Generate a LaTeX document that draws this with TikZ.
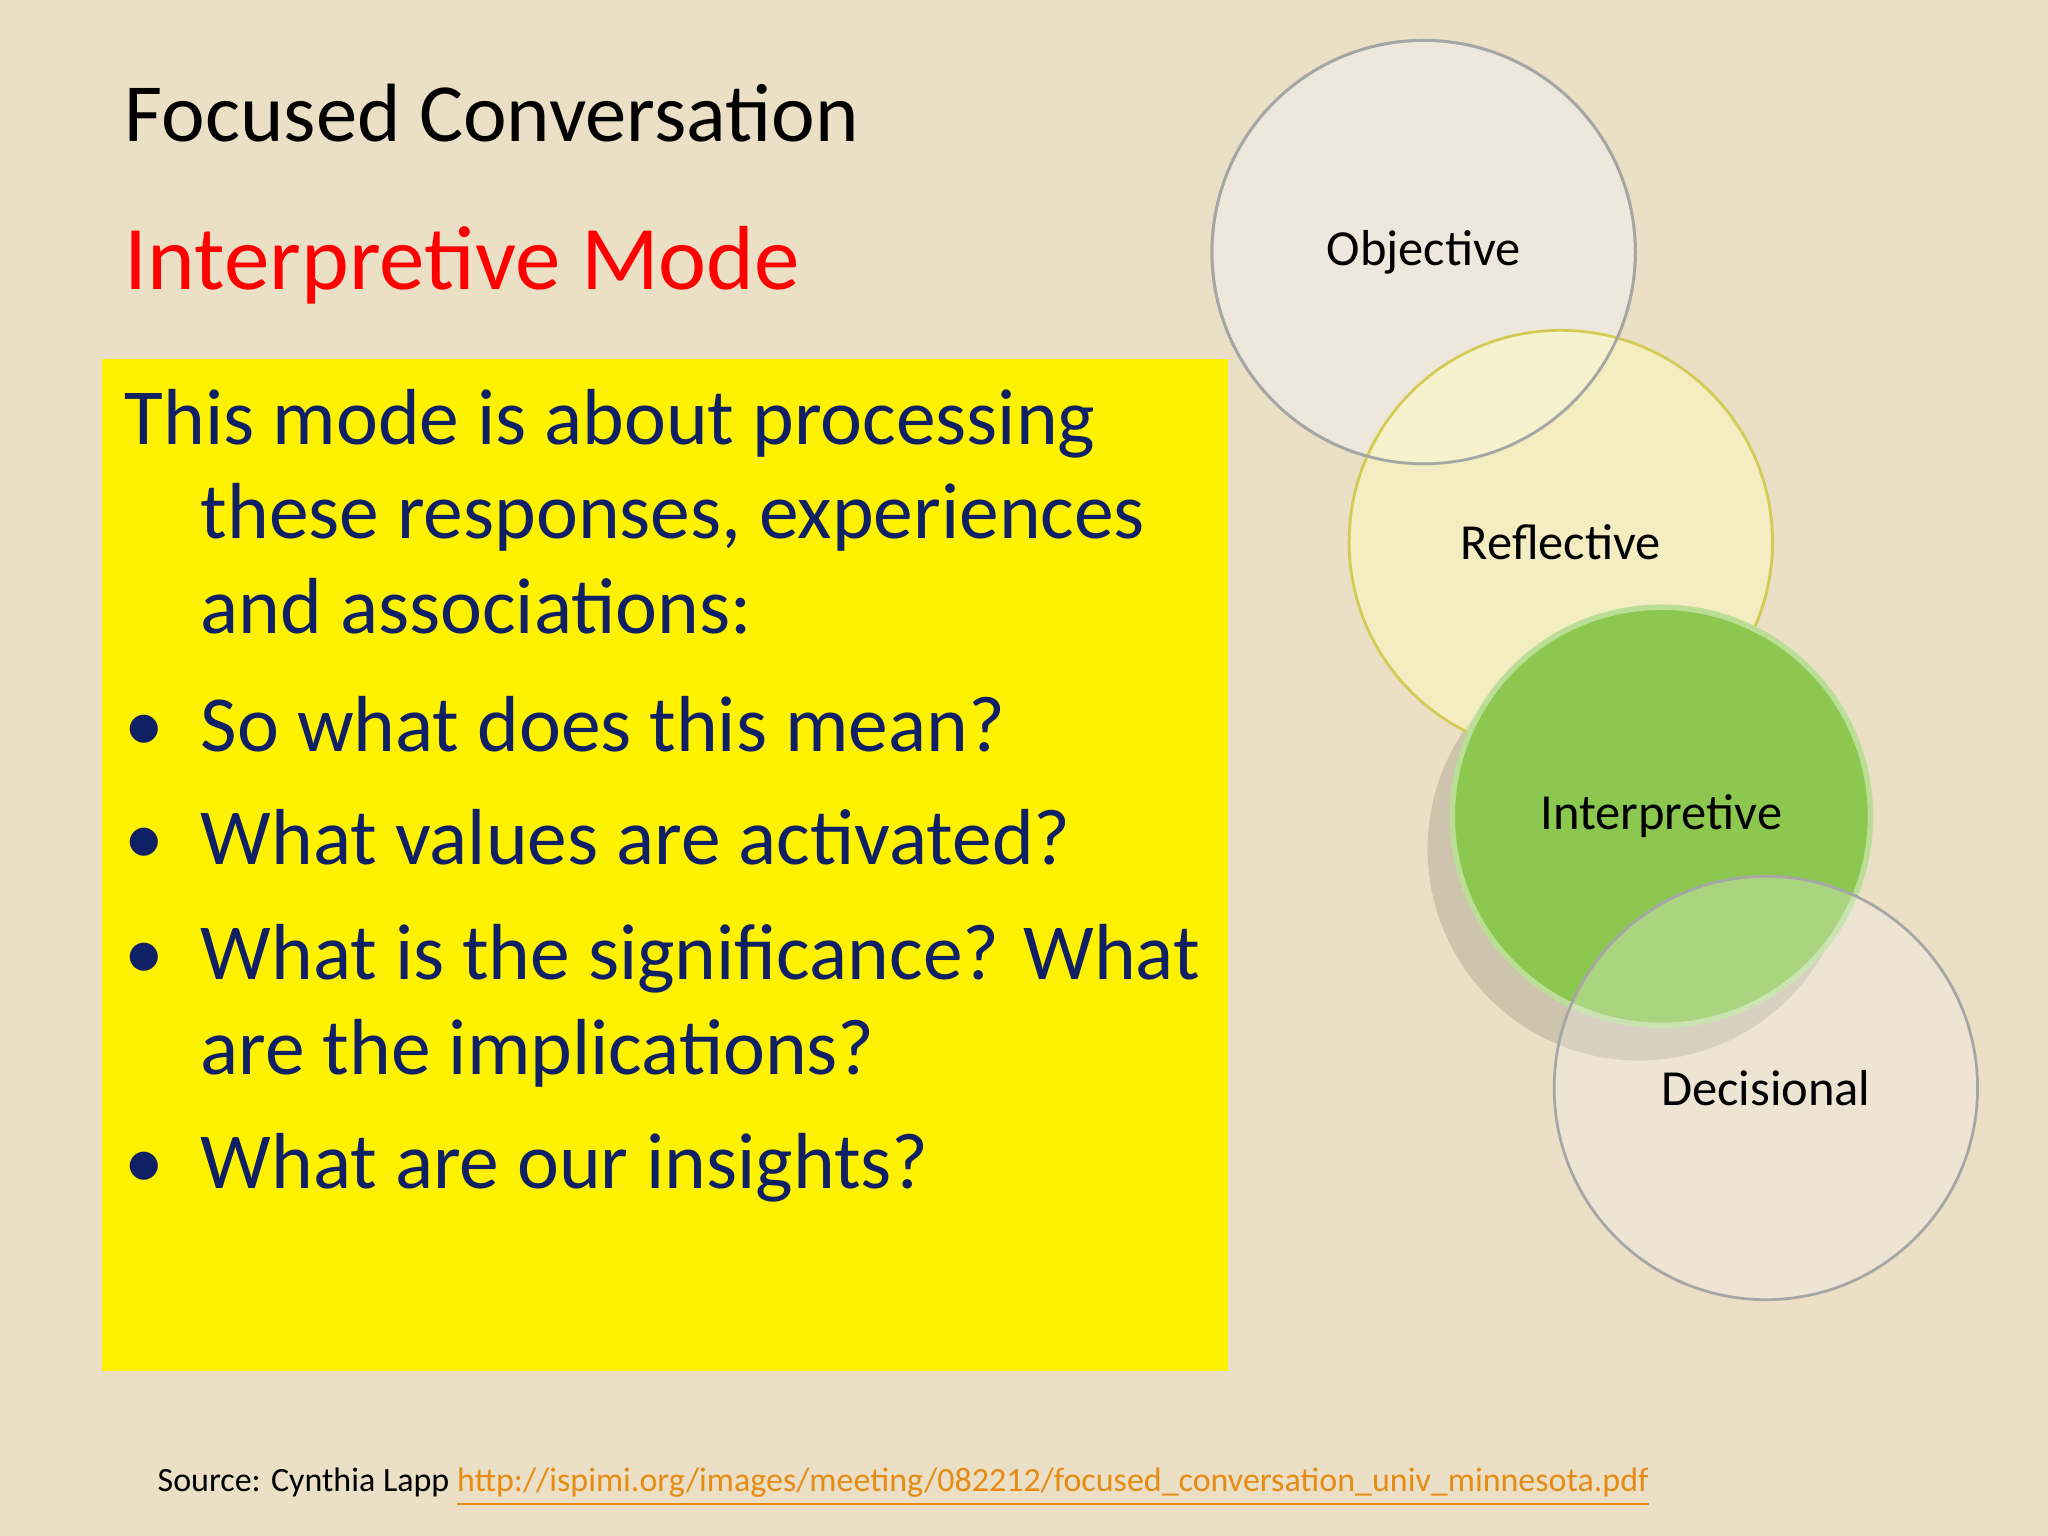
\documentclass[tikz,border=0pt]{standalone}
\usepackage{fontspec}
\setmainfont{Carlito}
\usepackage{xcolor}
\definecolor{bg}{RGB}{235,223,198}
\definecolor{navy}{RGB}{16,32,100}
\definecolor{linkc}{RGB}{230,140,20}
\definecolor{grn}{RGB}{140,200,80}
\begin{document}
\begin{tikzpicture}[x=0.01cm,y=-0.01cm,
  txt/.style={anchor=base west,inner sep=0,text=navy,font=\fontsize{17.3}{20}\selectfont},
  circ/.style={circle,minimum size=3.24cm,inner sep=0,draw=gray!70,line width=0.6pt,font=\fontsize{11}{13}\selectfont}]
\fill[bg] (0,0) rectangle (1568,1176);
\useasboundingbox (0,0) rectangle (1568,1176);
\node[anchor=base west,inner sep=0,font=\fontsize{18}{21}\selectfont] (title) at (95,108) {Focused Conversation};
\node[anchor=base west,inner sep=0,text=red,font=\fontsize{19.8}{23}\selectfont] (mode) at (95,222) {Interpretive Mode};
\fill[yellow] (78,275) rectangle (940,1050);
\node[txt] (l1) at (95,340) {This mode is about processing};
\node[txt] (l2) at (153,412) {these responses, experiences};
\node[txt] (l3) at (153,485) {and associations:};
\foreach \y/\t [count=\i] in {575/So what does this mean?,662/What values are activated?,750/What is the significance? What,910/What are our insights?}{
  \node[txt] (b\i) at (95,\y) {•};
  \node[txt] (t\i) at (153,\y) {\t};
}
\node[txt] (t5) at (153,823) {are the implications?};
% circles
\fill[black,opacity=0.12] (1255,650) circle (162);
\node[circ,fill=gray!10,fill opacity=0.5,text opacity=1] (obj) at (1090,193) {Objective};
\node[circ,fill=yellow!25,fill opacity=0.5,text opacity=1,draw=yellow!60!gray] (ref) at (1195,415) {Reflective};
\node[circ,minimum size=3.2cm,fill=grn,draw=grn!60!white,line width=1.2pt] (int) at (1272,625) {Interpretive};
\node[circ,fill=gray!10,fill opacity=0.3,text opacity=1] (dec) at (1352,833) {Decisional};
\node[circ,draw=gray!70,fill=none] at (1090,193) {};
\node[anchor=base west,inner sep=0,font=\fontsize{7.4}{9}\selectfont] (src) at (120,1142) {Source: Cynthia Lapp \textcolor{linkc}{\underline{http://ispimi.org/images/meeting/082212/focused\_conversation\_univ\_minnesota.pdf}}};
\end{tikzpicture}
\end{document}
